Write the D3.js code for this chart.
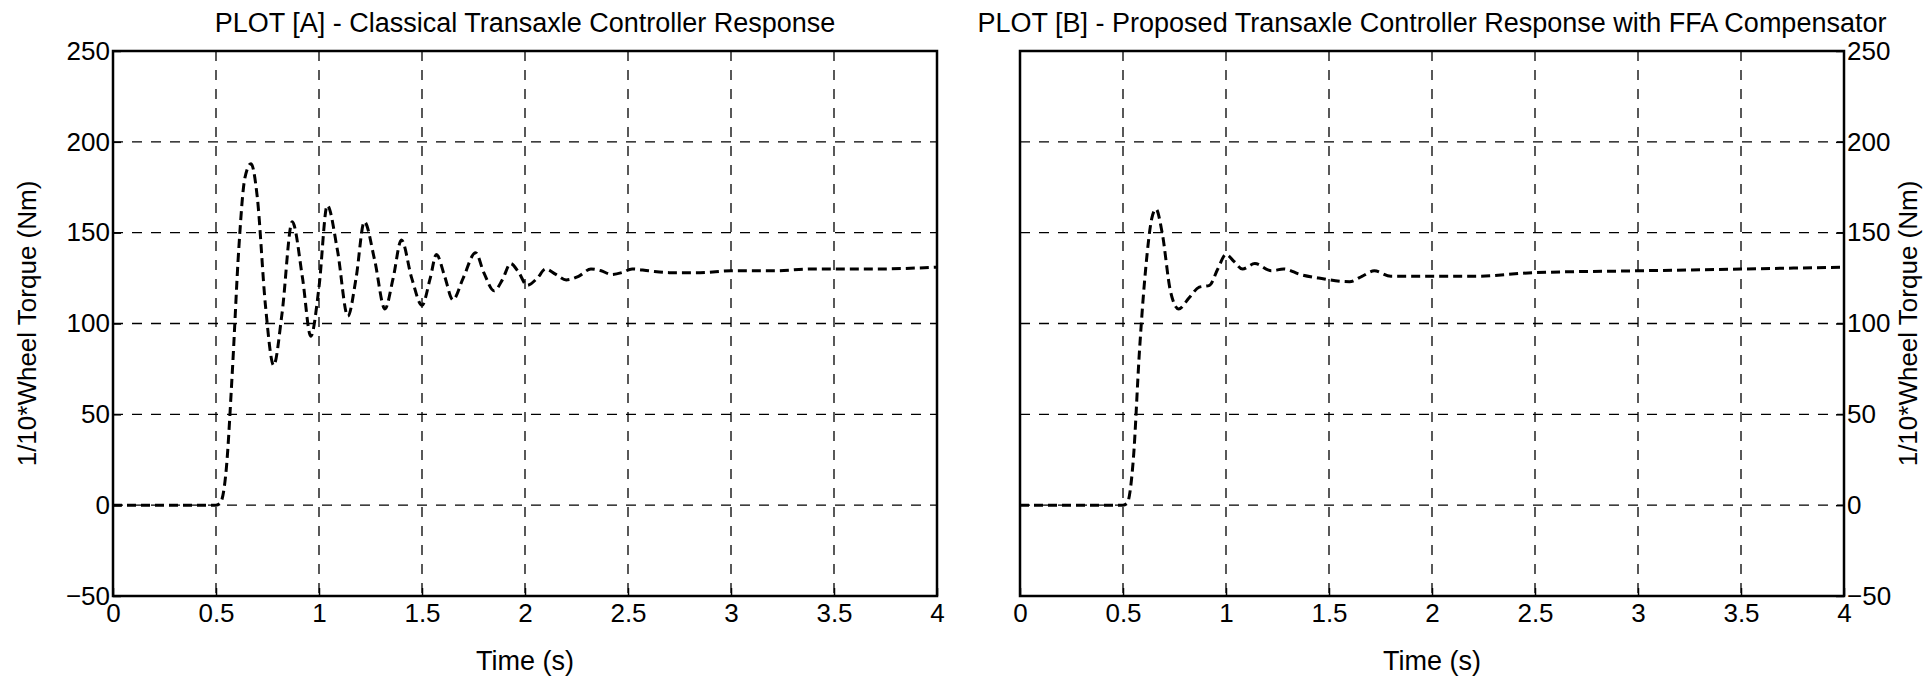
<!DOCTYPE html><html><head><meta charset="utf-8"><script src="https://cdn.jsdelivr.net/npm/d3@7"></script>
<style>body{margin:0;background:#fff}text{font-family:"Liberation Sans",Arial,sans-serif}</style></head><body>
<svg id="c" width="1927" height="682"></svg>
<script>
const xTicks=[0,0.5,1,1.5,2,2.5,3,3.5,4];
const yTicks=[-50,0,50,100,150,200,250];
const timeA=[0,0.5,0.52,0.55,0.58,0.61,0.64,0.67,0.70,0.74,0.78,0.82,0.87,0.92,0.96,1.00,1.04,1.09,1.14,1.18,1.22,1.27,1.32,1.36,1.40,1.45,1.50,1.54,1.57,1.61,1.65,1.70,1.76,1.80,1.85,1.89,1.93,1.97,2.01,2.06,2.10,2.15,2.20,2.26,2.32,2.37,2.42,2.47,2.52,2.6,2.7,2.85,3.0,3.2,3.4,3.7,4.0];
const torqueA=[0,0,1,20,75,140,180,188,170,110,77,105,156,125,93,120,165,140,104,125,156,135,108,125,146,125,110,125,138,126,113,125,139,128,118,124,133,128,121,125,130,127,124,126,130,129,127,128,130,129,128,128,129,129,130,130,131];
const timeB=[0,0.5,0.52,0.55,0.58,0.61,0.64,0.66,0.69,0.73,0.77,0.82,0.87,0.92,0.96,1.00,1.04,1.08,1.14,1.22,1.28,1.36,1.45,1.6,1.66,1.72,1.8,2.0,2.2,2.5,3.0,3.5,4.0];
const torqueB=[0,0,1,25,85,130,158,163,150,118,108,114,120,121,130,138,134,130,133,129,130,127,125,123,126,129,126,126,126,128,129,130,131];
const W=824,H=545,T=51;
const svg=d3.select("#c");
function panel(L,times,vals,title,right){
  const x=d3.scaleLinear().domain([0,4]).range([L,L+W]);
  const y=d3.scaleLinear().domain([-50,250]).range([T+H,T]);
  const g=svg.append("g");
  g.selectAll(".gx").data(xTicks.slice(1,-1)).join("line").attr("x1",d=>x(d)).attr("x2",d=>x(d)).attr("y1",T).attr("y2",T+H).attr("stroke","#000").attr("stroke-width",1.3).attr("stroke-dasharray","10,9");
  g.selectAll(".gy").data(yTicks.slice(1,-1)).join("line").attr("y1",d=>y(d)).attr("y2",d=>y(d)).attr("x1",L).attr("x2",L+W).attr("stroke","#000").attr("stroke-width",1.3).attr("stroke-dasharray","10,9");
  g.append("rect").attr("x",L).attr("y",T).attr("width",W).attr("height",H).attr("fill","none").attr("stroke","#000").attr("stroke-width",2.5);
  const ax=g.append("g").attr("transform",`translate(0,${T+H})`).call(d3.axisBottom(x).tickValues(xTicks).tickSize(-8).tickPadding(8).tickFormat(d3.format("")));
  const ay=g.append("g").attr("transform",`translate(${right?L+W:L},0)`).call((right?d3.axisRight(y):d3.axisLeft(y)).tickValues(yTicks).tickSize(-8).tickPadding(3));
  [ax,ay].forEach(a=>{a.select(".domain").remove();a.selectAll("line").attr("stroke-width",1.5);a.selectAll("text").attr("font-size",26).attr("fill","#000").attr("font-family","Liberation Sans, Arial");});
  g.append("text").attr("x",L+W/2).attr("y",32).attr("text-anchor","middle").attr("font-size",27).text(title);
  g.append("text").attr("x",L+W/2).attr("y",670).attr("text-anchor","middle").attr("font-size",27).text("Time (s)");
  const ly=T+H/2, lx=right?1917:36;
  g.append("text").attr("transform",`translate(${lx},${ly}) rotate(-90)`).attr("text-anchor","middle").attr("font-size",26).text("1/10*Wheel Torque (Nm)");
  g.append("path").datum(times.map((t,i)=>[t,vals[i]])).attr("d",d3.line().x(d=>x(d[0])).y(d=>y(d[1])).curve(d3.curveMonotoneX)).attr("fill","none").attr("stroke","#000").attr("stroke-width",3).attr("stroke-dasharray","9,5");
}
panel(113,timeA,torqueA,"PLOT [A] - Classical Transaxle Controller Response",false);
panel(1020,timeB,torqueB,"PLOT [B] - Proposed Transaxle Controller Response with FFA Compensator",true);
</script></body></html>
